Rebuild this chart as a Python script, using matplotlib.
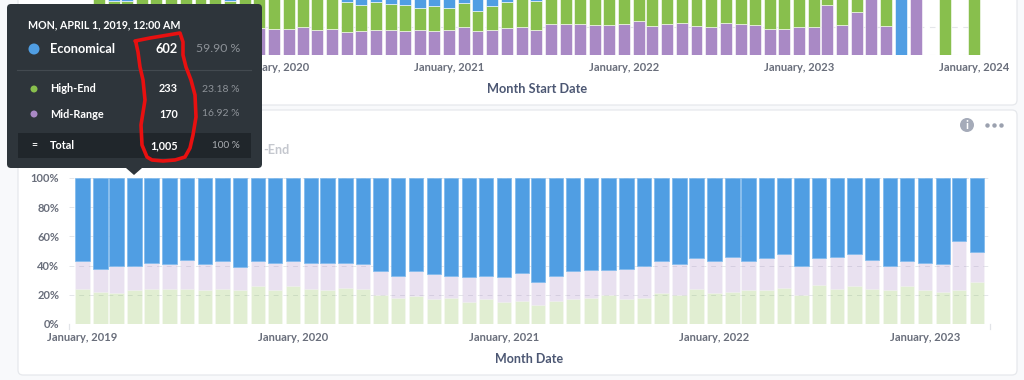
import datetime as dt
import matplotlib
matplotlib.use("Agg")
import matplotlib.pyplot as plt
import matplotlib.dates as mdates
from matplotlib.patches import FancyBboxPatch, Rectangle, Circle, Polygon

plt.rcParams['font.family'] = ['Lato', 'DejaVu Sans']

# --- DATA ---

# top chart: counts per month, January 2019 to January 2024 (cut off by the image edge)
top_mid_range = [175, 160, 165, 170, 180, 175, 170, 185, 175, 165, 180, 191,
                 181, 186, 198, 174, 181, 160, 167, 179, 179, 167, 174, 167,
                 179, 198, 167, 179, 193, 198, 174, 217, 221, 221, 210, 214,
                 217, 240, 207, 221, 228, 207, 198, 228, 221, 210, 184, 184,
                 198, 198, 356, 214, 306, 420, 207, 0, 420, 0, 0, 0, 0]
top_high_end = [230, 225, 220, 233, 235, 230, 225, 240, 230, 220, 235, 210,
                230, 225, 220, 235, 225, 217, 186, 196, 179, 186, 161, 179,
                156, 167, 142, 167, 184, 210, 208, 200, 190, 190, 200, 195,
                200, 180, 200, 190, 190, 210, 210, 190, 190, 200, 210, 210,
                200, 200, 40, 190, 90, 0, 190, 0, 0, 0, 420, 0, 420]
top_economical = [580, 560, 570, 602, 590, 585, 560, 600, 580, 570, 590, 590,
                  560, 570, 580, 560, 570, 580, 590, 600, 600, 620, 600, 610,
                  610, 600, 620, 600, 590, 560, 570, 520, 500, 480, 500, 490,
                  500, 480, 520, 470, 470, 500, 510, 480, 470, 460, 500, 540,
                  520, 530, 250, 380, 220, 0, 200, 420, 0, 0, 0, 0, 0]

# bottom chart: share in percent, January 2019 to April 2023
pct_high_end = [24, 22, 21, 23, 24, 24, 24, 23, 24, 23, 26, 23, 26,
                24, 23, 25, 24, 20, 18, 19, 17, 18, 15, 17, 15, 16,
                13, 16, 17, 18, 20, 17, 18, 21, 20, 24, 21, 22, 23,
                23, 25, 20, 27, 24, 26, 24, 23, 26, 23, 22, 23, 29]
pct_mid_range = [19, 16, 19, 17, 18, 17, 20, 18, 19, 16, 17, 19, 17,
                 18, 19, 17, 17, 16, 15, 17, 17, 15, 17, 16, 17, 19,
                 16, 17, 19, 19, 17, 21, 22, 22, 21, 21, 22, 24, 20,
                 22, 23, 20, 18, 22, 22, 20, 17, 17, 19, 19, 34, 20]
pct_economical = [57, 62, 60, 60, 58, 59, 56, 59, 57, 61, 57, 58, 57,
                  58, 58, 58, 59, 64, 67, 64, 66, 67, 68, 67, 68, 65,
                  71, 67, 64, 63, 63, 62, 60, 57, 59, 55, 57, 54, 57,
                  55, 52, 60, 55, 54, 52, 56, 60, 57, 58, 59, 43, 51]

pct_ticks = [0, 20, 40, 60, 80, 100]
top_years = [2020, 2021, 2022, 2023, 2024]
bottom_years = [2019, 2020, 2021, 2022, 2023]

tooltip_title = "MON, APRIL 1, 2019, 12:00 AM"
tooltip_rows = [("High-End", "233", "23.18 %", 89, "#88BF4D"),
                ("Mid-Range", "170", "16.92 %", 114, "#A989C5")]

# hand drawn red outline, in image pixels
red_x = [135, 150, 168, 180, 183, 183, 186, 191, 195, 196, 193, 190, 185, 175, 163, 152, 147, 142, 141, 145, 143, 140, 138, 136]
red_y = [41, 38, 35, 33, 42, 55, 67, 80, 95, 117, 135, 148, 157, 160, 161, 160, 157, 145, 125, 100, 80, 67, 52, 43]

BLUE = "#509EE3"
GREEN = "#88BF4D"
PURPLE = "#A989C5"
LABEL = "#696E7B"
TITLE = "#4C5773"
W, H = 1024, 380


def months(count):
    return [dt.date(2019 + i // 12, i % 12 + 1, 1) for i in range(count)]


def add_chart(left, right, top, bottom):
    """Axes placed by image pixels"""
    ax = fig.add_axes([left / W, 1 - bottom / H, (right - left) / W, (bottom - top) / H])
    ax.set_facecolor('none')
    for side in ax.spines.values():
        side.set_visible(False)
    ax.set_axisbelow(True)
    ax.tick_params(length=0, labelsize=8.0, labelcolor=LABEL)
    return ax


def style_labels(ax):
    for lab in ax.get_xticklabels() + ax.get_yticklabels():
        lab.set_fontweight('bold')


fig = plt.figure(figsize=(W / 100, H / 100), dpi=100, facecolor="#F8F9FB")

# --- CARDS ---
back = fig.add_axes([0, 0, 1, 1], zorder=0)
back.set_xlim(0, W)
back.set_ylim(H, 0)
back.axis('off')
for y0, y1 in [(-20, 105), (110, 375)]:
    back.add_patch(FancyBboxPatch((18, y0), 999, y1 - y0, boxstyle="round,pad=0,rounding_size=5",
                                  fc="white", ec="#E6E8EC", lw=0.9))

# --- TOP CHART ---
ax_top = add_chart(85, 985, 0, 55)
ax_top.set_zorder(1)
dates_top = months(len(top_mid_range))
base = [a + b for a, b in zip(top_mid_range, top_high_end)]
for vals, bott, col in [(top_mid_range, None, PURPLE), (top_high_end, top_mid_range, GREEN),
                        (top_economical, base, BLUE)]:
    ax_top.bar(dates_top, vals, bottom=bott, width=25, color=col, edgecolor="white", linewidth=0.4)
ax_top.set_ylim(0, 389)
ax_top.set_yticks([0, 200])
ax_top.set_yticklabels([])
ax_top.grid(axis='y', color="#E4E6EA", linestyle=(0, (5, 5)), linewidth=0.8)
ax_top.set_xlim(mdates.date2num(dt.date(2019, 1, 1)) - 29, mdates.date2num(dt.date(2024, 1, 1)) + 23)
ax_top.set_xticks([dt.date(y, 1, 1) for y in top_years])
ax_top.set_xticklabels([f"January, {y}" for y in top_years])
style_labels(ax_top)
ax_top.tick_params(axis='x', pad=5)
ax_top.set_xlabel("Month Start Date", fontsize=9.2, fontweight='bold', color=TITLE, va='center')
ax_top.xaxis.set_label_coords(0.502, -0.62)

# --- BOTTOM CHART ---
ax_bot = add_chart(69, 990, 178, 324)
ax_bot.set_zorder(1)
dates_bot = months(len(pct_high_end))
mid_base = pct_high_end
eco_base = [a + b for a, b in zip(pct_high_end, pct_mid_range)]
ax_bot.bar(dates_bot, pct_high_end, width=25, color=GREEN, alpha=0.25, edgecolor="white", linewidth=0.5)
ax_bot.bar(dates_bot, pct_mid_range, bottom=mid_base, width=25, color=PURPLE, alpha=0.25,
           edgecolor="white", linewidth=0.5)
ax_bot.bar(dates_bot, pct_economical, bottom=eco_base, width=25, color=BLUE, edgecolor="#7DB8EC", linewidth=0.5)
ax_bot.set_ylim(0, 100)
ax_bot.set_yticks(pct_ticks)
ax_bot.set_yticklabels([f"{p}%" for p in pct_ticks])
ax_bot.grid(axis='y', color="#E4E6EA", linestyle=(0, (5, 5)), linewidth=0.7)
ax_bot.set_xlim(mdates.date2num(dt.date(2019, 1, 1)) - 23.4, mdates.date2num(dt.date(2019, 1, 1)) + 1573.6)
ax_bot.set_xticks([dt.date(y, 1, 1) for y in bottom_years])
ax_bot.set_xticklabels([f"January, {y}" for y in bottom_years])
style_labels(ax_bot)
ax_bot.tick_params(axis='x', pad=6)
ax_bot.tick_params(axis='y', pad=7)
ax_bot.set_xlabel("Month Date", fontsize=9.0, fontweight='bold', color=TITLE, va='center')
ax_bot.xaxis.set_label_coords(0.5, -0.24)

# --- OVERLAY ---
over = fig.add_axes([0, 0, 1, 1], zorder=3)
over.set_xlim(0, W)
over.set_ylim(H, 0)
over.axis('off')
over.patch.set_alpha(0)

# axis end ticks
over.plot([69, 69], [324, 329], color="#E2E4E8", lw=0.9)
over.plot([990, 990], [324, 329], color="#E2E4E8", lw=0.9)

# info icon and menu
over.add_patch(Circle((967, 125), 7, fc="#A5ABB9", ec="none"))
over.text(967, 125.5, "i", color="white", fontsize=8.5, fontweight='bold', ha='center', va='center')
over.plot([987, 994, 1001], [125, 125, 125], 'o', color="#9BA1AF", ms=2.2)

# what is left of the legend beside the tooltip
over.text(263, 150, "-End", color="#C4C7CE", fontsize=9.0, fontweight='bold', ha='left', va='center')

# tooltip
over.add_patch(FancyBboxPatch((7, 4), 255, 164, boxstyle="round,pad=0,rounding_size=4",
                              fc="#2E353B", ec="none", zorder=5))
over.add_patch(Polygon([[126, 168], [142, 168], [134, 175]], fc="#2E353B", ec="none", zorder=5))
over.add_patch(Rectangle((18, 133), 233, 25, fc="#20262B", ec="none", zorder=6))
over.plot([17, 251], [70, 70], color="#434A50", lw=0.8, zorder=6)
over.text(28, 24.5, tooltip_title, color="white", fontsize=7.7, fontweight='bold', va='center', zorder=7)

over.add_patch(Circle((34, 49), 5.5, fc=BLUE, ec="none", zorder=7))
over.text(50, 49, "Economical", color="white", fontsize=9.2, fontweight='bold', va='center', zorder=7)
over.text(178, 49, "602", color="white", fontsize=9.2, fontweight='bold', ha='right', va='center', zorder=7)
over.text(240, 49, "59.90 %", color="#8D9298", fontsize=8.8, ha='right', va='center', zorder=7)

for name, val, share, y, col in tooltip_rows:
    over.add_patch(Circle((34, y), 3.5, fc=col, ec="none", zorder=7))
    over.text(50, y, name, color="white", fontsize=7.8, fontweight='bold', va='center', zorder=7)
    over.text(178, y, val, color="white", fontsize=7.8, fontweight='bold', ha='right', va='center', zorder=7)
    over.text(240, y, share, color="#8D9298", fontsize=7.5, ha='right', va='center', zorder=7)

over.text(34, 145.5, "=", color="white", fontsize=7.5, fontweight='bold', ha='center', va='center', zorder=7)
over.text(50, 145.5, "Total", color="white", fontsize=7.8, fontweight='bold', va='center', zorder=7)
over.text(178, 145.5, "1,005", color="white", fontsize=7.8, fontweight='bold', ha='right', va='center', zorder=7)
over.text(240, 145.5, "100 %", color="#A8ACB1", fontsize=7.2, ha='right', va='center', zorder=7)

over.plot(red_x, red_y, color="#E81010", lw=2.6, solid_capstyle='round', solid_joinstyle='round', zorder=8)

fig.savefig("out.png", dpi=100, facecolor=fig.get_facecolor())
